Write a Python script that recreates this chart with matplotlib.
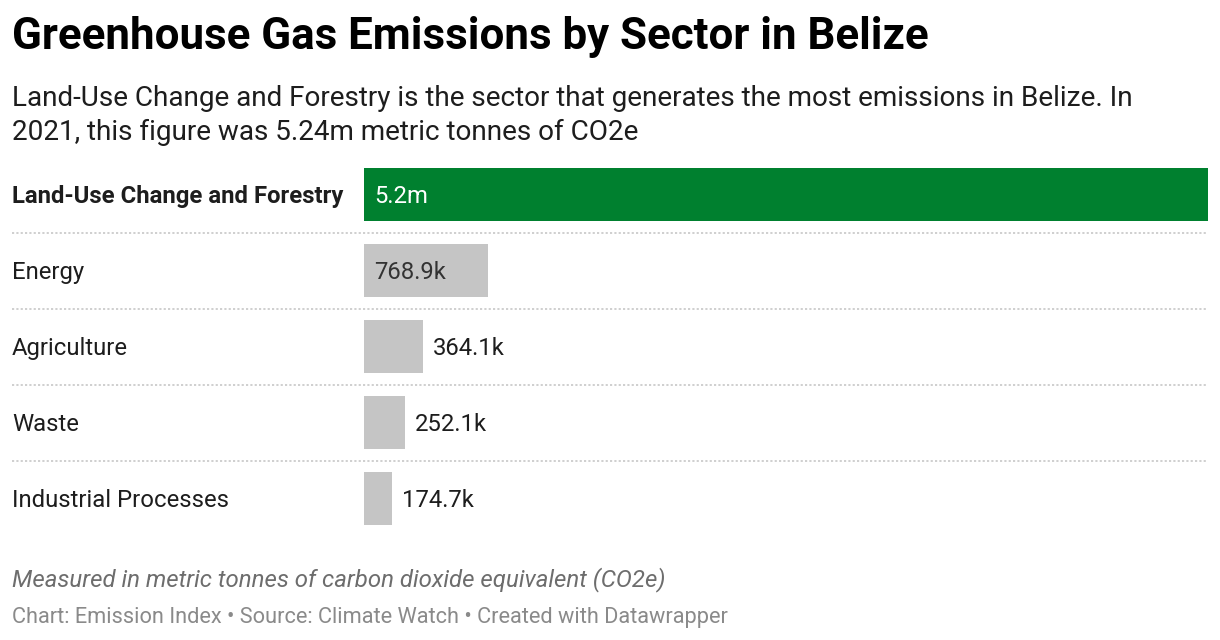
import matplotlib.pyplot as plt
from matplotlib.transforms import blended_transform_factory, ScaledTranslation

# data
sectors = ['Land-Use Change and Forestry', 'Energy', 'Agriculture', 'Waste', 'Industrial Processes']
emissions = [5240000, 768900, 364100, 252100, 174700]
value_labels = ['5.2m', '768.9k', '364.1k', '252.1k', '174.7k']
highlight = 'Land-Use Change and Forestry'

plt.rcParams['font.family'] = ['Roboto', 'DejaVu Sans']

W, H = 1220, 640
fig = plt.figure(figsize=(W / 100, H / 100), dpi=100)
fig.patch.set_facecolor('white')

def fx(px):
    return px / W

def fy(py):
    return 1 - py / H

# titles
fig.text(fx(12), fy(37), 'Greenhouse Gas Emissions by Sector in Belize', fontsize=31.6, fontweight='bold',
         color='#000000', va='center', ha='left')
fig.text(fx(12), fy(99), 'Land-Use Change and Forestry is the sector that generates the most emissions in Belize. In',
         fontsize=20.1, color='#1d1d1d', va='center', ha='left')
fig.text(fx(12), fy(132), '2021, this figure was 5.24m metric tonnes of CO2e',
         fontsize=20.1, color='#1d1d1d', va='center', ha='left')

# bar area
top, row_h, n = 156.5, 76, len(sectors)
ax = fig.add_axes([fx(364), fy(top + row_h * n), fx(1208) - fx(364), row_h * n / H])
ax.set_xlim(0, emissions[0])
ax.set_ylim(n - 0.5, -0.5)
ax.axis('off')

colors = ['#00802f' if s == highlight else '#c5c5c5' for s in sectors]
ax.barh(range(n), emissions, height=0.7, color=colors)

# nudge labels down ~2px
down = ScaledTranslation(0, -0.02, fig.dpi_scale_trans)
trans = blended_transform_factory(fig.transFigure, ax.transData)
for i, (s, v, lab) in enumerate(zip(sectors, emissions, value_labels)):
    bold = s == highlight
    ax.text(fx(12), i, s, transform=trans + down, fontsize=17.2, fontweight='bold' if bold else 'normal',
            color='#1d1d1d', va='center', ha='left')
    bar_px = v / emissions[0] * 844
    if bar_px > 120:
        ax.text(10 / 844 * emissions[0], i, lab, transform=ax.transData + down, fontsize=17.2,
                va='center', ha='left', color='white' if bold else '#333333')
    else:
        ax.text(v + 10 / 844 * emissions[0], i, lab, transform=ax.transData + down, fontsize=17.2,
                va='center', ha='left', color='#1d1d1d')
    if i < n - 1:
        ax.plot([fx(12), fx(1208)], [i + 0.5, i + 0.5], transform=trans, clip_on=False,
                color='#cccccc', linewidth=1.3, linestyle=(0, (1.2, 1.2)))

# footer
fig.text(fx(12), fy(580), 'Measured in metric tonnes of carbon dioxide equivalent (CO2e)', fontsize=17.3,
         style='italic', color='#6d6d6d', va='center', ha='left')
fig.text(fx(12), fy(618), 'Chart: Emission Index \u2022 Source: Climate Watch \u2022 Created with Datawrapper',
         fontsize=15.7, color='#8a8a8a', va='center', ha='left')

fig.savefig('out.png', dpi=100)
